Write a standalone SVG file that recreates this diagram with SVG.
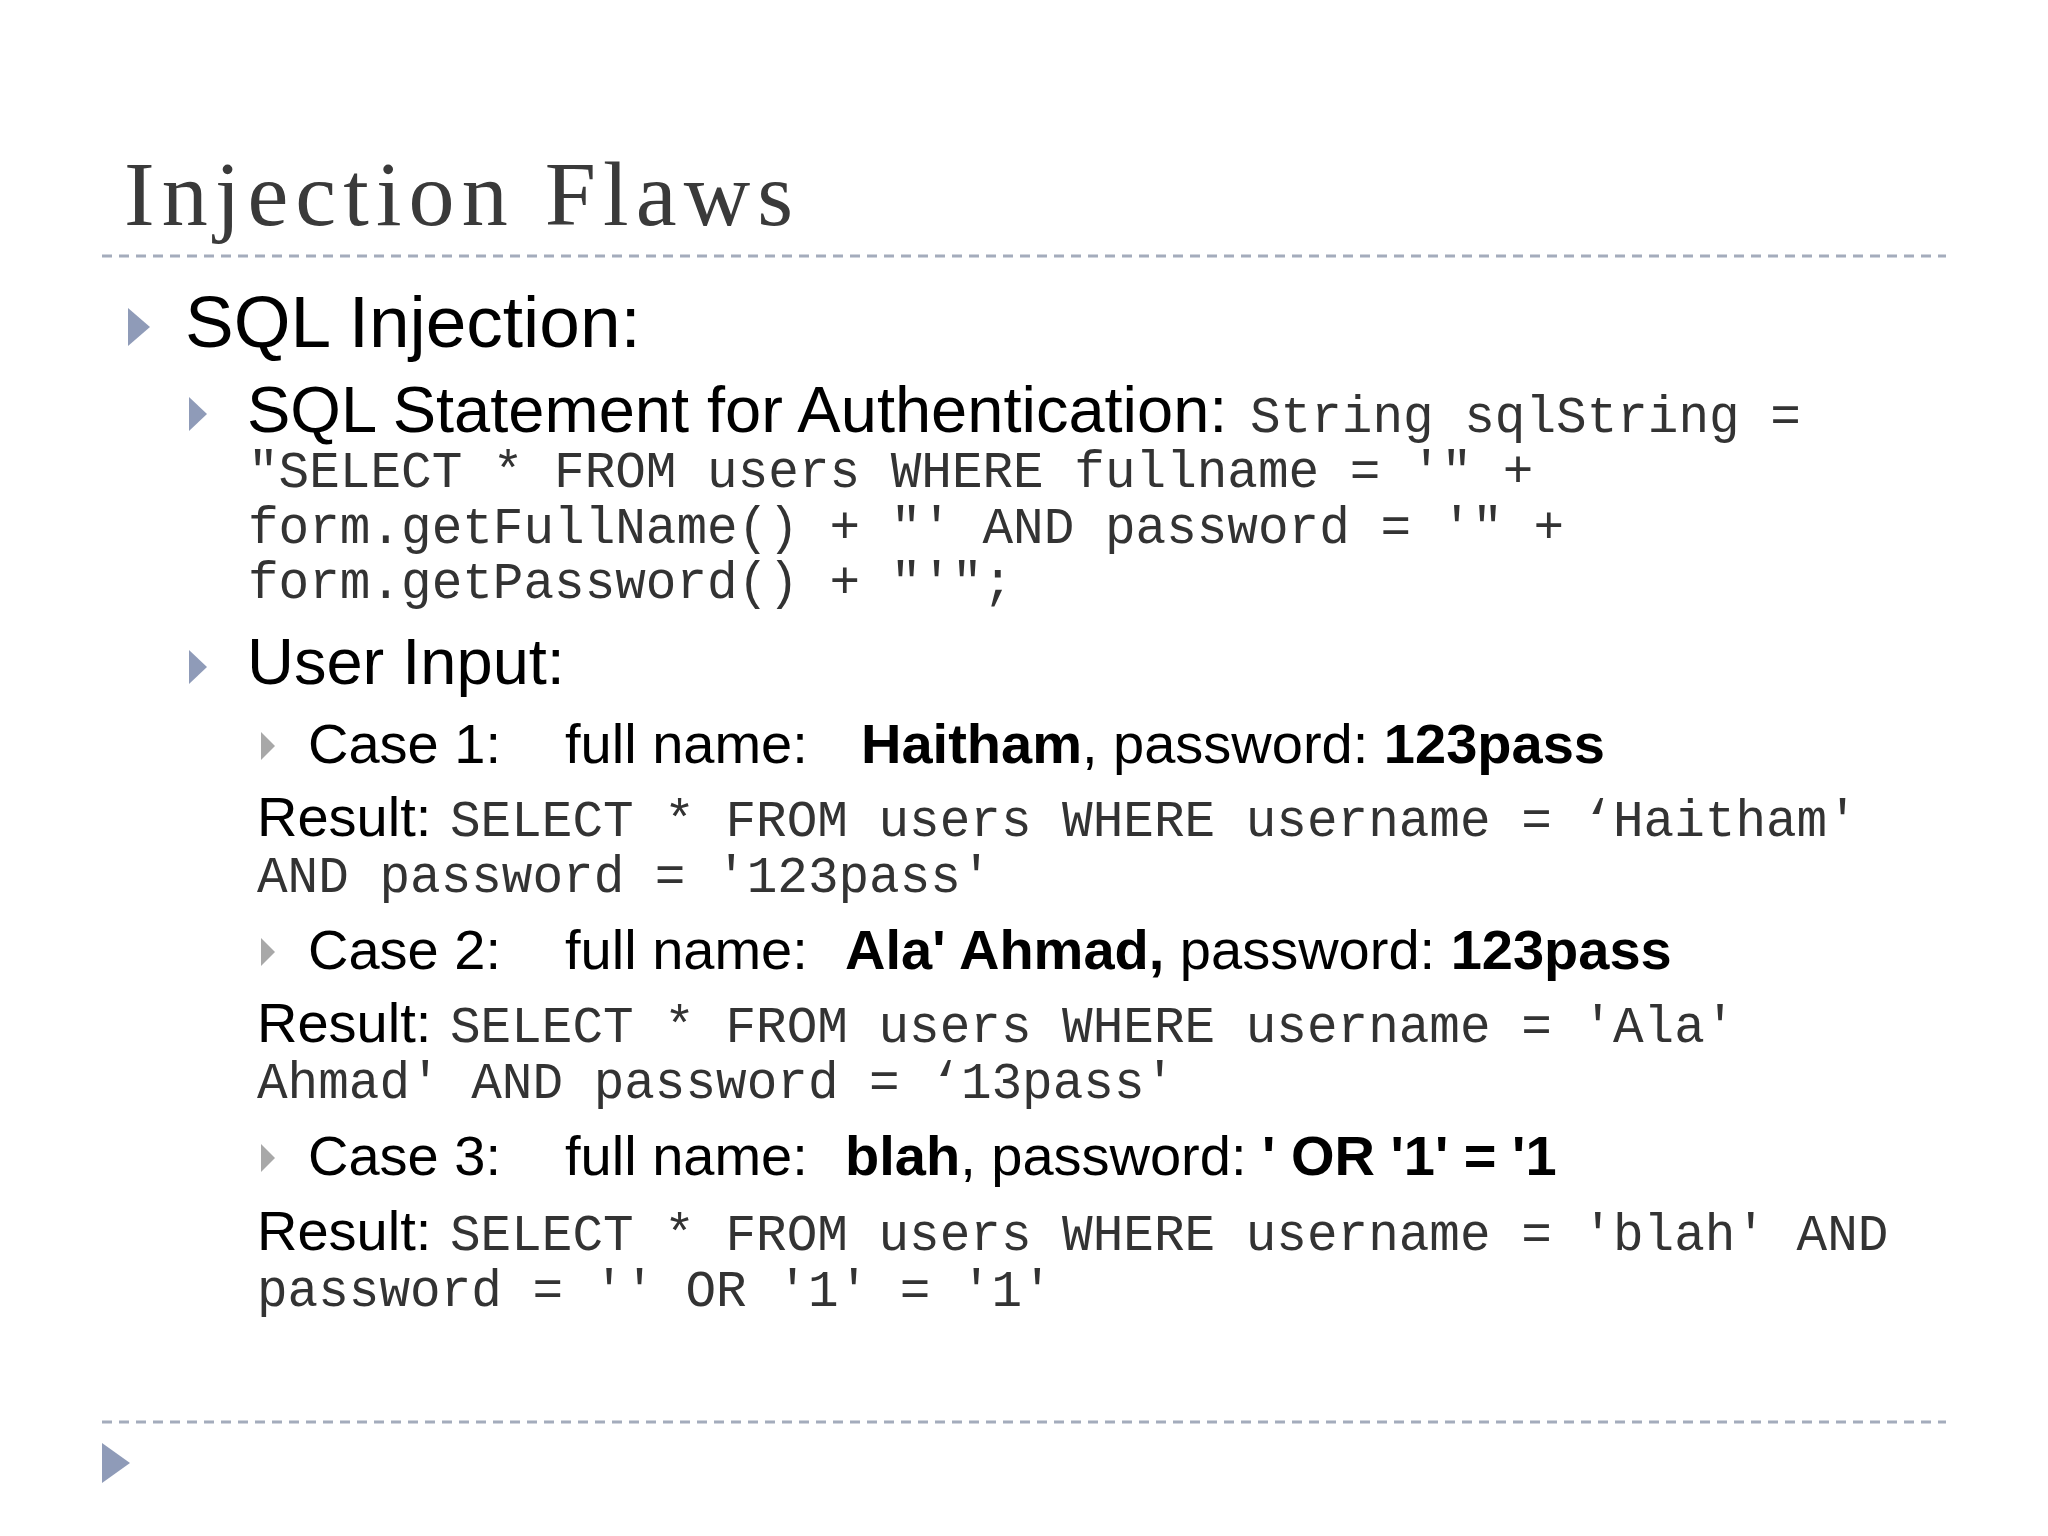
<svg xmlns="http://www.w3.org/2000/svg" width="2048" height="1536" viewBox="0 0 2048 1536">
<style>
.t{font-family:"Liberation Serif",serif;font-size:92px;fill:#3a3a3a}
.s{font-family:"Liberation Sans",Arial,sans-serif;fill:#000}
.m{font-family:"Liberation Mono","Courier New",monospace;font-size:51px;fill:#333}
.b{font-weight:bold}
.d{stroke:#a4acbc;stroke-width:3;stroke-dasharray:10,7}
.tri{fill:#8f9bb8}
.tri2{fill:#a8a8a8}
</style>
<rect width="2048" height="1536" fill="#fff"/>
<text class="t" x="124" y="225" textLength="669" lengthAdjust="spacing">Injection Flaws</text>
<line class="d" x1="102" y1="256" x2="1946" y2="256"/>
<line class="d" x1="102" y1="1422" x2="1946" y2="1422"/>
<polygon class="tri" points="102,1443 130,1463 102,1483"/>
<polygon class="tri" points="128,308 150,327 128,346"/>
<text class="s" x="185" y="347" font-size="73">SQL Injection:</text>
<polygon class="tri" points="189,397 207,414 189,431"/>
<text class="s" x="247" y="432" font-size="65">SQL Statement for Authentication: <tspan class="m" x="1250">String sqlString =</tspan></text>
<text class="m" x="248" y="487" xml:space="preserve">"SELECT * FROM users WHERE fullname = '" +</text>
<text class="m" x="248" y="543" xml:space="preserve">form.getFullName() + "' AND password = '" +</text>
<text class="m" x="248" y="598" xml:space="preserve">form.getPassword() + "'";</text>
<polygon class="tri" points="189,650 207,667 189,684"/>
<text class="s" x="247" y="684" font-size="65">User Input:</text>
<g class="s" font-size="56">
<polygon class="tri2" points="261,732 275,746 261,760"/>
<text x="308" y="763">Case 1:<tspan x="565">full name:</tspan><tspan x="861" class="b">Haitham</tspan>, password: <tspan class="b">123pass</tspan></text>
<text x="257" y="836">Result: <tspan class="m" x="450">SELECT * FROM users WHERE username = ‘Haitham'</tspan></text>
<text class="m" x="257" y="892" xml:space="preserve">AND password = '123pass'</text>
<polygon class="tri2" points="261,938 275,952 261,966"/>
<text x="308" y="969">Case 2:<tspan x="565">full name:</tspan><tspan x="845" class="b">Ala' Ahmad,</tspan> password: <tspan class="b">123pass</tspan></text>
<text x="257" y="1042">Result: <tspan class="m" x="450">SELECT * FROM users WHERE username = 'Ala'</tspan></text>
<text class="m" x="257" y="1098" xml:space="preserve">Ahmad' AND password = ‘13pass'</text>
<polygon class="tri2" points="261,1144 275,1158 261,1172"/>
<text x="308" y="1175">Case 3:<tspan x="565">full name:</tspan><tspan x="845" class="b">blah</tspan>, password: <tspan class="b">' OR '1' = '1</tspan></text>
<text x="257" y="1250">Result: <tspan class="m" x="450">SELECT * FROM users WHERE username = 'blah' AND</tspan></text>
<text class="m" x="257" y="1306" xml:space="preserve">password = '' OR '1' = '1'</text>
</g>
</svg>
